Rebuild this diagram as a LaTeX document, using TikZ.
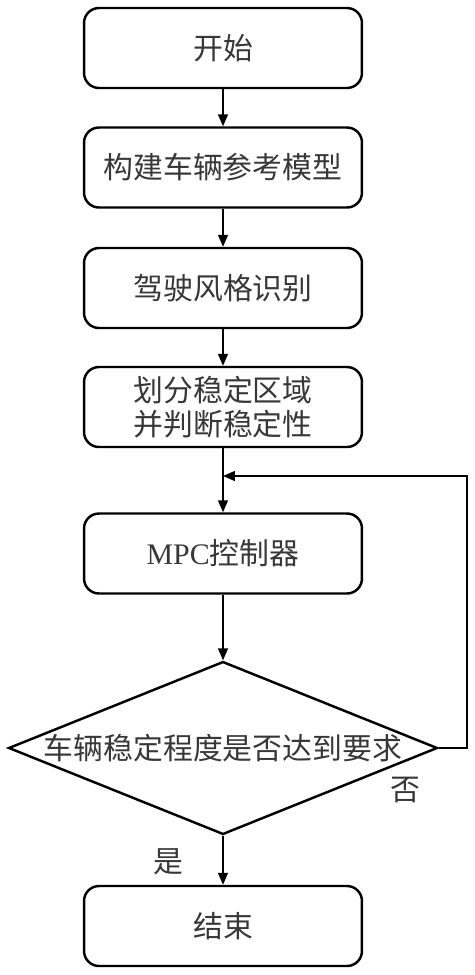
\documentclass[tikz,border=0pt]{standalone}
\usepackage{fontspec}
\setmainfont{Liberation Serif}
\newfontfamily\cjk{Noto Sans CJK SC}
\usetikzlibrary{shapes.geometric,arrows.meta}

\definecolor{txtgray}{RGB}{55,55,55}
\tikzset{
  procbox/.style={draw, rounded corners=0.3cm, line width=1.4pt, minimum width=5.56cm,
    minimum height=1.6cm, align=center, text=txtgray, font=\cjk\fontsize{17}{19}\selectfont},
  decision/.style={draw, diamond, line width=1.4pt, inner sep=0pt, minimum width=8.58cm,
    minimum height=3.46cm},
  lbl/.style={text=txtgray, font=\cjk\fontsize{17}{19}\selectfont},
  flow/.style={line width=0.85pt},
}

\begin{document}
\begin{tikzpicture}[x=0.02cm, y=-0.02cm, >={Triangle[length=2.4mm,width=2mm]}]
  \useasboundingbox (0,0) rectangle (474,975);
  % steps
  \node[procbox] (start) at (223,48) {开始};
  \node[procbox] (model) at (223,167.5) {构建车辆参考模型};
  \node[procbox] (style) at (223,288) {驾驶风格识别};
  \node[procbox] (region) at (223,407) {划分稳定区域\\并判断稳定性};
  \node[procbox] (mpc) at (223,553.5) {{\rmfamily MPC}控制器};
  \node[decision] (check) at (223,748) {};
  \node[lbl] (checktxt) at (check) {车辆稳定程度是否达到要求};
  \node[procbox] (stop) at (223,926) {结束};
  \node[lbl] (no) at (405,790) {否};
  \node[lbl] (yes) at (168,862) {是};
  \coordinate (merge) at (223,476);
  \coordinate (back) at (467,476);
  % connectors
  \draw[flow,->] (start) -- (model);
  \draw[flow,->] (model) -- (style);
  \draw[flow,->] (style) -- (region);
  \draw[flow,->] (region) -- (mpc);
  \draw[flow,->] (mpc) -- (check);
  \draw[flow,->] (check) -- (stop);
  \draw[flow,->] (check.east) -| (back) -- (merge);
\end{tikzpicture}
\end{document}
